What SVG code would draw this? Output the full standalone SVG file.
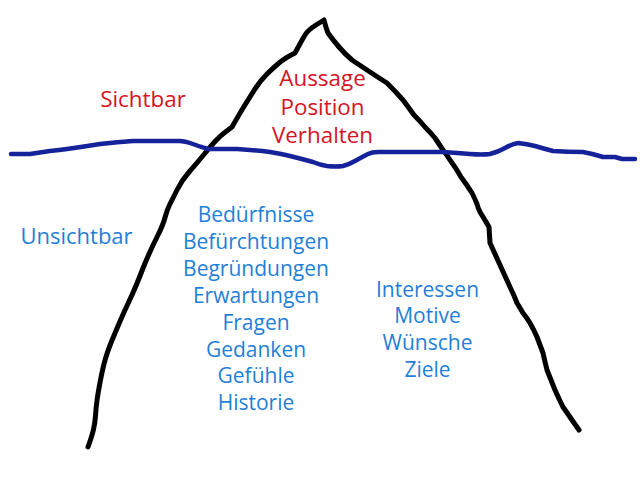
<svg xmlns="http://www.w3.org/2000/svg" width="640" height="480" viewBox="0 0 640 480">
<style>
text{font-family:"Open Sans","Noto Sans",sans-serif;text-anchor:middle}
.r{fill:#d7141f;font-size:22.4px}
.b{fill:#1f7fd9;font-size:21px}
.w{font-size:22px}
.line{fill:none;stroke-linecap:round;stroke-linejoin:round}
</style>
<rect width="640" height="480" fill="#fff"/>
<g id="connectors">
<path id="iceberg" class="line" stroke="#000" stroke-width="5" d="M88 447Q92 436 93.500 429.500Q95 423 95.500 415.500Q96 408 97 400.500Q98 393 100.500 380Q103 367 105.500 358.500Q108 350 111.500 341.500Q115 333 119.500 322.500Q124 312 128.500 302.500Q133 293 136.500 284.500Q140 276 142.500 269.500Q145 263 149 254Q153 245 158 235Q163 225 165 217.500Q167 210 169.500 205Q172 200 177 190Q182 180 189.500 171.500Q197 163 203.500 155Q210 147 215 141.500Q220 136 226 131.500L232 127Q240 113 244 106.500Q248 100 254 90.500Q260 81 266.500 74.500Q273 68 279 63Q285 58 295 53Q302 40 305 35Q308 30 316 25L324 20Q326 28 328 33Q333 40 339 47Q345 54 352 60Q361 66 370 72Q379 78 387 83Q395 91 403 100Q409 108 414 115Q420 121 425 127Q430 132 435 138Q439 144 443 150Q447 155 450 160Q456 168 461 177Q467 185 472 193Q475 199 477 204Q478 208 480 212Q485 220 489 227L490 243Q495 254 500 265Q505 276 510 287Q514 295 517 303Q520 308 523 313Q527 318 530 323Q534 330 537 337Q540 345 543 353Q545 362 547 370Q551 380 555 390Q559 399 563 407Q568 414 572 420L579 430"/>
<path id="waterline" class="line" stroke="#15229a" stroke-width="4.500" d="M11 154Q22 154 30 154Q40 152.500 50 151Q60 150 67 149Q85 146.500 100 144Q118 142 133 141Q158 141 180 141Q186 141.500 190 143Q198 146 208 149Q222 149 237 149Q255 150 270 152Q282 154 290 156Q302 159 313 162Q320 165 327 166Q336 167 343 166Q350 164 355 161Q362 157 368 154Q372 152 378 152L443 152Q458 153 470 154Q482 155 490 154Q498 152 505 148Q512 144 518 143Q527 144 535 146Q545 149 553 151Q568 152 583 152Q594 154 603 157L615 157L622 159L635 159"/>
</g>
<g id="sichtbar"><text class="r" x="143" y="107">Sichtbar</text></g>
<g id="unsichtbar"><text class="b w" x="76.500" y="243.500">Unsichtbar</text></g>
<g id="top">
<text class="r" x="322.500" y="86">Aussage</text>
<text class="r" x="322.500" y="115">Position</text>
<text class="r" x="322.500" y="143">Verhalten</text>
</g>
<g id="left-list">
<text class="b" x="256" y="221.600">Bedürfnisse</text>
<text class="b" x="256" y="248.600">Befürchtungen</text>
<text class="b" x="256" y="275.600">Begründungen</text>
<text class="b" x="256" y="302.600">Erwartungen</text>
<text class="b" x="256" y="329.600">Fragen</text>
<text class="b" x="256" y="356.600">Gedanken</text>
<text class="b" x="256" y="382.800">Gefühle</text>
<text class="b" x="256" y="409.800">Historie</text>
</g>
<g id="right-list">
<text class="b" x="427.500" y="296.500">Interessen</text>
<text class="b" x="427.500" y="322.800">Motive</text>
<text class="b" x="427.500" y="349.700">Wünsche</text>
<text class="b" x="427.500" y="376.500">Ziele</text>
</g>
</svg>
